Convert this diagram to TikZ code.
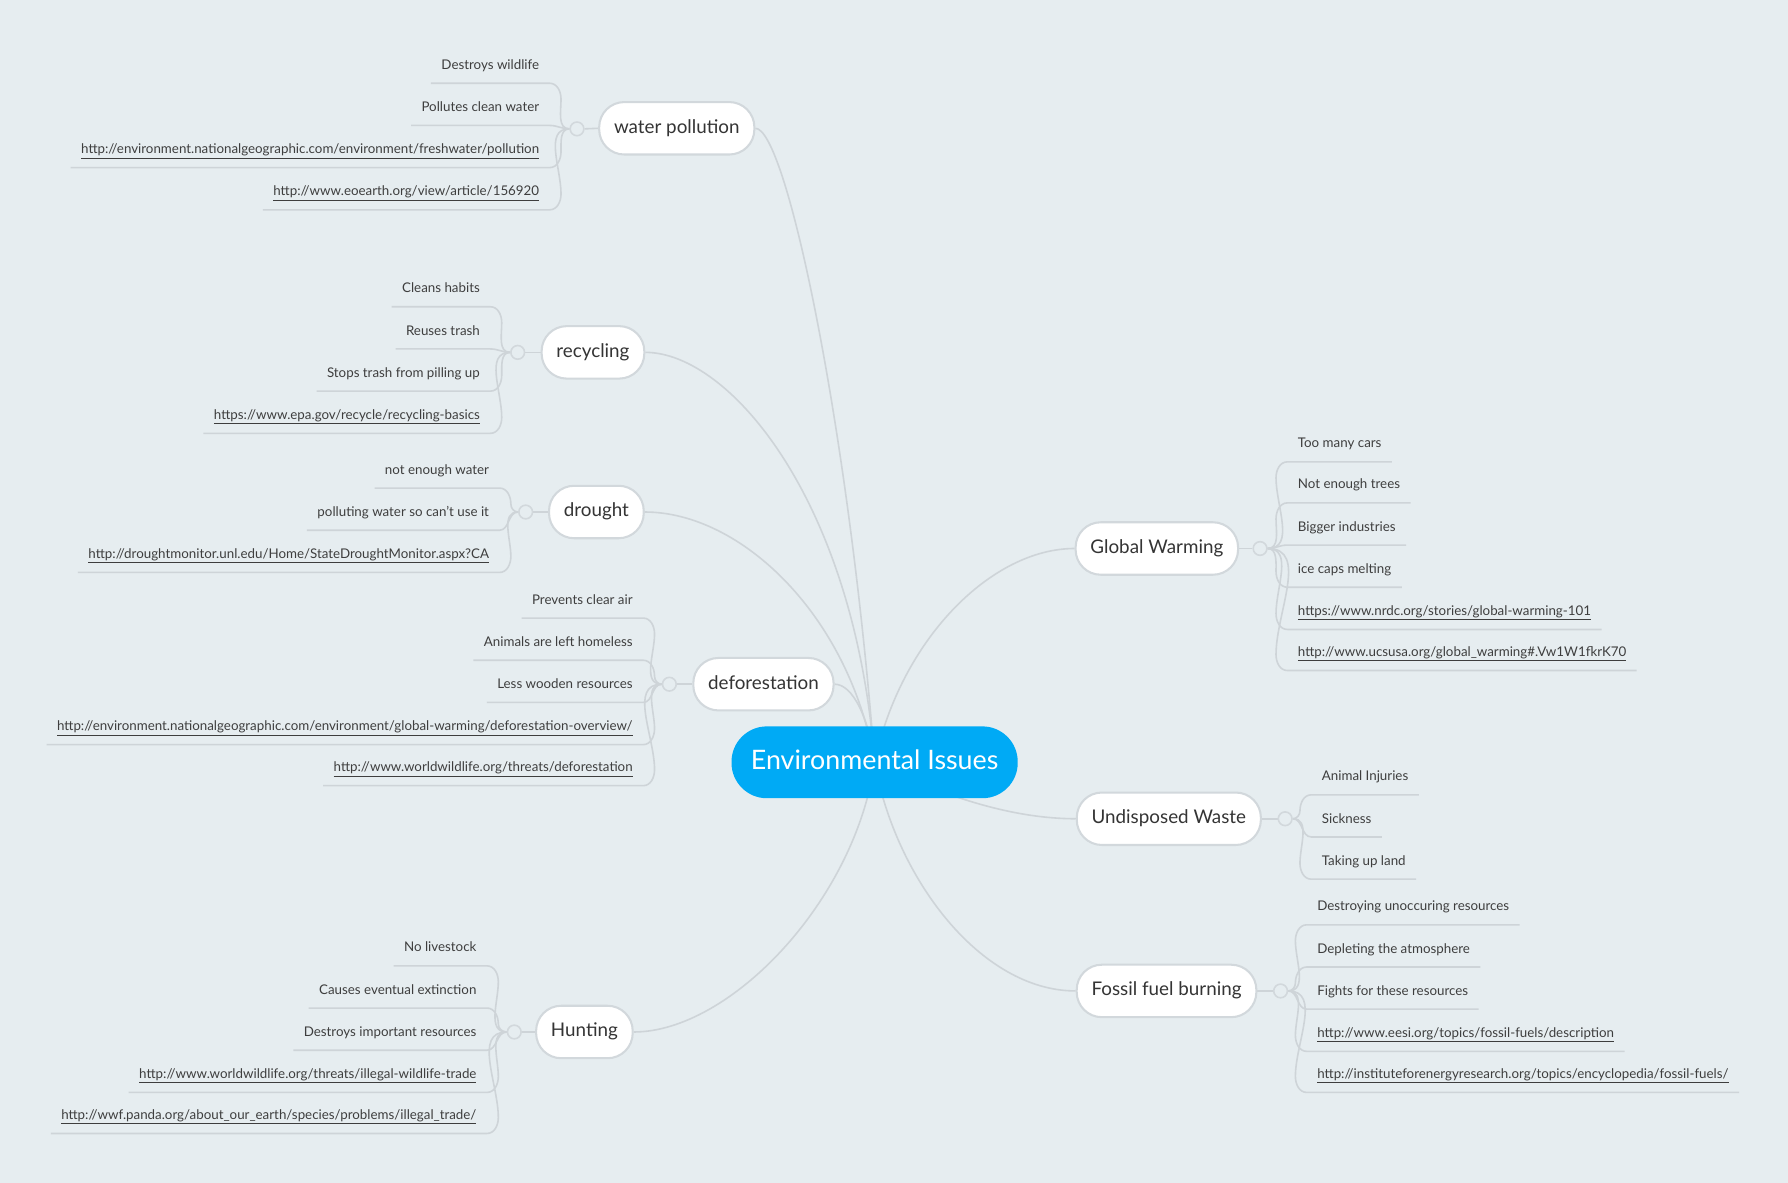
\documentclass[tikz,border=0pt]{standalone}
\usepackage{fontspec}
\setmainfont{Lato}
\usetikzlibrary{calc}
\definecolor{bgc}{RGB}{230,237,240}
\definecolor{linec}{RGB}{206,212,216}
\definecolor{bordc}{RGB}{210,216,220}
\definecolor{centc}{RGB}{0,170,245}
\definecolor{txtc}{RGB}{52,52,52}
\definecolor{leafc}{RGB}{62,62,62}
\pgfdeclarelayer{bg}
\pgfsetlayers{bg,main}
\newcommand\lnk[1]{\underline{#1}}
\newcommand\mmLa[2]{\draw[conn] (#1.west) to[out=180,in=-90] ($(#2.south east)+(10,-14)$) to[out=90,in=0] (#2.south east) -- (#2.south west);}
\newcommand\mmLb[2]{\draw[conn] (#1.west) to[out=180,in=90] ($(#2.south east)+(10,14)$) to[out=-90,in=0] (#2.south east) -- (#2.south west);}
\newcommand\mmLl[2]{\draw[conn] (#1.west) to[out=180,in=0] (#2.south east) -- (#2.south west);}
\newcommand\mmRa[2]{\draw[conn] (#1.east) to[out=0,in=-90] ($(#2.south west)+(-10,-14)$) to[out=90,in=180] (#2.south west) -- (#2.south east);}
\newcommand\mmRb[2]{\draw[conn] (#1.east) to[out=0,in=90] ($(#2.south west)+(-10,14)$) to[out=-90,in=180] (#2.south west) -- (#2.south east);}
\newcommand\mmRl[2]{\draw[conn] (#1.east) to[out=0,in=180] (#2.south west) -- (#2.south east);}
\begin{document}
\begin{tikzpicture}[x=1pt,y=1pt,
  central/.style={rectangle, rounded corners=31pt, fill=centc, text=white, minimum height=63pt, inner xsep=17pt, text height=17pt, text depth=5pt, font=\fontsize{23.5}{28}\selectfont},
  topic/.style={rectangle, rounded corners=22pt, fill=white, draw=bordc, line width=1.8pt, minimum height=46pt, inner xsep=13pt, text height=12pt, text depth=3.5pt, text=txtc, font=\fontsize{16.5}{19}\selectfont},
  junc/.style={circle, draw=bordc, fill=bgc, line width=1.4pt, minimum size=12pt, inner sep=0pt},
  leafL/.style={anchor=south east, inner xsep=9pt, inner ysep=9pt, text height=9pt, text depth=3pt, text=leafc, font=\fontsize{11.7}{14}\selectfont},
  leafR/.style={leafL, anchor=south west},
  conn/.style={draw=linec, line width=1.4pt}]
\useasboundingbox (0,0) rectangle (1568,-1037);
\begin{pgfonlayer}{bg}
\fill[bgc] (0,0) rectangle (1568,-1037);
\end{pgfonlayer}

% central and topics
\node[central] (c) at (767,-668.5) {Environmental Issues};
\node[topic] (wp) at (593.5,-112.5) {water pollution};
\node[topic] (rc) at (520,-309) {recycling};
\node[topic] (dr) at (523,-449) {drought};
\node[topic] (df) at (669.5,-600) {deforestation};
\node[topic] (hu) at (512.5,-905) {Hunting};
\node[topic] (gw) at (1014.5,-481) {Global Warming};
\node[topic] (uw) at (1025,-718) {Undisposed Waste};
\node[topic] (ff) at (1023,-869) {Fossil fuel burning};

% junctions
\node[junc] (jwp) at (506,-113) {};
\node[junc] (jrc) at (454,-309) {};
\node[junc] (jdr) at (461,-449) {};
\node[junc] (jdf) at (587,-600) {};
\node[junc] (jhu) at (451,-905) {};
\node[junc] (jgw) at (1105,-481) {};
\node[junc] (juw) at (1127,-718) {};
\node[junc] (jff) at (1123,-869) {};

% leaves: water pollution
\node[leafL] (wp1) at (482,-73) {Destroys wildlife};
\node[leafL] (wp2) at (482,-110) {Pollutes clean water};
\node[leafL] (wp3) at (482,-147) {\lnk{http://environment.nationalgeographic.com/environment/freshwater/pollution}};
\node[leafL] (wp4) at (482,-184) {\lnk{http://www.eoearth.org/view/article/156920}};
% recycling
\node[leafL] (rc1) at (430,-269) {Cleans habits};
\node[leafL] (rc2) at (430,-306) {Reuses trash};
\node[leafL] (rc3) at (430,-343) {Stops trash from pilling up};
\node[leafL] (rc4) at (430,-380) {\lnk{https://www.epa.gov/recycle/recycling-basics}};
% drought
\node[leafL] (dr1) at (438,-428) {not enough water};
\node[leafL] (dr2) at (438,-465) {polluting water so can't use it};
\node[leafL] (dr3) at (438,-502) {\lnk{http://droughtmonitor.unl.edu/Home/StateDroughtMonitor.aspx?CA}};
% deforestation
\node[leafL] (df1) at (564,-542) {Prevents clear air};
\node[leafL] (df2) at (564,-579) {Animals are left homeless};
\node[leafL] (df3) at (564,-616) {Less wooden resources};
\node[leafL] (df4) at (564,-653) {\lnk{http://environment.nationalgeographic.com/environment/global-warming/deforestation-overview/}};
\node[leafL] (df5) at (564,-689) {\lnk{http://www.worldwildlife.org/threats/deforestation}};
% hunting
\node[leafL] (hu1) at (427,-847) {No livestock};
\node[leafL] (hu2) at (427,-884) {Causes eventual extinction};
\node[leafL] (hu3) at (427,-921) {Destroys important resources};
\node[leafL] (hu4) at (427,-958) {\lnk{http://www.worldwildlife.org/threats/illegal-wildlife-trade}};
\node[leafL] (hu5) at (427,-994) {\lnk{http://wwf.panda.org/about\_our\_earth/species/problems/illegal\_trade/}};
% global warming
\node[leafR] (gw1) at (1129,-405) {Too many cars};
\node[leafR] (gw2) at (1129,-441) {Not enough trees};
\node[leafR] (gw3) at (1129,-478) {Bigger industries};
\node[leafR] (gw4) at (1129,-515) {ice caps melting};
\node[leafR] (gw5) at (1129,-552) {\lnk{https://www.nrdc.org/stories/global-warming-101}};
\node[leafR] (gw6) at (1129,-588) {\lnk{http://www.ucsusa.org/global\_warming\#.Vw1W1fkrK70}};
% undisposed waste
\node[leafR] (uw1) at (1150,-697) {Animal Injuries};
\node[leafR] (uw2) at (1150,-734) {Sickness};
\node[leafR] (uw3) at (1150,-771) {Taking up land};
% fossil fuel
\node[leafR] (ff1) at (1146,-811) {Destroying unoccuring resources};
\node[leafR] (ff2) at (1146,-848) {Depleting the atmosphere};
\node[leafR] (ff3) at (1146,-885) {Fights for these resources};
\node[leafR] (ff4) at (1146,-922) {\lnk{http://www.eesi.org/topics/fossil-fuels/description}};
\node[leafR] (ff5) at (1146,-958) {\lnk{http://instituteforenergyresearch.org/topics/encyclopedia/fossil-fuels/}};

\begin{pgfonlayer}{bg}
% main curves
\draw[conn] (wp.east) .. controls (690,-112.5) and (745,-380) .. (c.center);
\draw[conn] (rc.east) .. controls (640,-309) and (750,-440) .. (c.center);
\draw[conn] (dr.east) .. controls (650,-449) and (745,-540) .. (c.center);
\draw[conn] (df.east) .. controls (748,-600) and (762,-630) .. (c.center);
\draw[conn] (hu.east) .. controls (640,-905) and (750,-790) .. (c.center);
\draw[conn] (gw.west) .. controls (870,-481) and (790,-560) .. (c.center);
\draw[conn] (uw.west) .. controls (890,-718) and (830,-700) .. (c.center);
\draw[conn] (ff.west) .. controls (860,-869) and (785,-770) .. (c.center);
% topic to junction
\draw[conn] (wp.west) -- (jwp.east);
\draw[conn] (rc.west) -- (jrc.east);
\draw[conn] (dr.west) -- (jdr.east);
\draw[conn] (df.west) -- (jdf.east);
\draw[conn] (hu.west) -- (jhu.east);
\draw[conn] (gw.east) -- (jgw.west);
\draw[conn] (uw.east) -- (juw.west);
\draw[conn] (ff.east) -- (jff.west);
% leaf connectors
\mmLa{jwp}{wp1} \mmLl{jwp}{wp2} \mmLb{jwp}{wp3} \mmLb{jwp}{wp4}
\mmLa{jrc}{rc1} \mmLl{jrc}{rc2} \mmLb{jrc}{rc3} \mmLb{jrc}{rc4}
\mmLa{jdr}{dr1} \mmLl{jdr}{dr2} \mmLb{jdr}{dr3}
\mmLa{jdf}{df1} \mmLa{jdf}{df2} \mmLl{jdf}{df3} \mmLb{jdf}{df4} \mmLb{jdf}{df5}
\mmLa{jhu}{hu1} \mmLa{jhu}{hu2} \mmLl{jhu}{hu3} \mmLb{jhu}{hu4} \mmLb{jhu}{hu5}
\mmRa{jgw}{gw1} \mmRa{jgw}{gw2} \mmRl{jgw}{gw3} \mmRb{jgw}{gw4} \mmRb{jgw}{gw5} \mmRb{jgw}{gw6}
\mmRa{juw}{uw1} \mmRl{juw}{uw2} \mmRb{juw}{uw3}
\mmRa{jff}{ff1} \mmRa{jff}{ff2} \mmRl{jff}{ff3} \mmRb{jff}{ff4} \mmRb{jff}{ff5}
\end{pgfonlayer}
\end{tikzpicture}
\end{document}
